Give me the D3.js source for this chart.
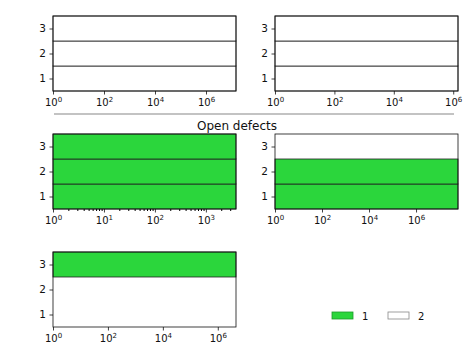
<!DOCTYPE html>
<html>
<head>
<meta charset="utf-8">
<script src="https://cdn.jsdelivr.net/npm/d3@7"></script>
<style>
  body { margin: 0; background: #fff; }
  text { font-family: "DejaVu Sans", sans-serif; fill: #111; }
</style>
</head>
<body>
<svg width="474" height="355"></svg>
<script>
// rows on the y axis
var rows = [1, 2, 3];
// series name for each row, per panel (null = no bar)
var panelSeries = [
  ["2", "2", "2"],
  ["2", "2", "2"],
  ["1", "1", "1"],
  ["1", "1", null],
  [null, null, "1"]
];
// bar length for each row, per panel
var panelValues = [
  [1.5e7, 1.5e7, 1.5e7],
  [1.45e6, 1.45e6, 1.45e6],
  [3.9e3, 3.9e3, 3.9e3],
  [6.1e7, 6.1e7, 6.1e7],
  [4.6e6, 4.6e6, 4.6e6]
];
var seriesNames = ["1", "2"];
var seriesColors = ["#2bd63c", "#ffffff"];
var title = "Open defects";

var svg = d3.select("svg");
var color = d3.scaleOrdinal().domain(seriesNames).range(seriesColors);

var pw = 183, ph = 75;
var slots = [[53, 16], [275, 16], [53, 134], [275, 134], [53, 252]];

slots.forEach(function (s, p) {
  var g = svg.append("g").attr("transform", "translate(" + s[0] + "," + s[1] + ")");
  var vals = panelValues[p];
  var xScale = d3.scaleLog().domain([1, d3.max(vals)]).range([0, pw]);
  var yScale = d3.scaleLinear().domain([0.5, 3.5]).range([ph, 0]);

  var decades = Math.log10(d3.max(vals));
  var step = decades > 4 ? 2 : 1;
  var majors = d3.range(0, Math.floor(decades) + 1, step).map(function (e) { return Math.pow(10, e); });

  var barData = rows.map(function (r, i) {
    return { row: r, value: vals[i], series: panelSeries[p][i] };
  }).filter(function (d) { return d.series !== null; });

  g.selectAll("rect.bar")
    .data(barData).enter()
    .append("rect")
    .attr("class", "bar")
    .attr("x", xScale(1))
    .attr("width", function (d) { return xScale(d.value) - xScale(1); })
    .attr("y", function (d) { return yScale(d.row + 0.5); })
    .attr("height", function (d) { return yScale(d.row - 0.5) - yScale(d.row + 0.5); })
    .style("fill", function (d) { return color(d.series); })
    .style("stroke", "#222")
    .style("stroke-width", "0.8px");

  // minor ticks when decades are shown one by one
  if (step === 1) {
    var minors = [];
    for (var e = 0; e <= Math.ceil(decades); e++) {
      for (var m = 2; m < 10; m++) {
        var v = m * Math.pow(10, e);
        if (v <= d3.max(vals)) minors.push(v);
      }
    }
    g.append("g")
      .attr("transform", "translate(0," + ph + ")")
      .call(d3.axisBottom(xScale).tickValues(minors).tickSize(2).tickFormat(""))
      .call(function (a) { a.select(".domain").remove(); });
  }

  var xAxis = g.append("g")
    .attr("transform", "translate(0," + ph + ")")
    .call(d3.axisBottom(xScale).tickValues(majors).tickSize(3.5).tickPadding(3.5).tickFormat(""));
  xAxis.select(".domain").remove();
  xAxis.selectAll(".tick line").style("stroke", "#111").attr("stroke-width", 0.8);

  var lbl = xAxis.selectAll(".tick").append("text")
    .attr("y", 15)
    .attr("text-anchor", "middle")
    .style("font-size", "10px");
  lbl.append("tspan").text("10");
  lbl.append("tspan")
    .attr("dy", -4.5)
    .style("font-size", "7px")
    .text(function (d) { return Math.round(Math.log10(d)); });

  var yAxis = g.append("g")
    .call(d3.axisLeft(yScale).tickValues(rows).tickSize(3.5).tickPadding(3.5).tickFormat(d3.format("d")));
  yAxis.select(".domain").remove();
  yAxis.selectAll(".tick line").style("stroke", "#111").attr("stroke-width", 0.8);
  yAxis.selectAll(".tick text").style("font-size", "10.5px").style("font-family", "DejaVu Sans");

  g.append("rect")
    .attr("width", pw).attr("height", ph)
    .style("fill", "none")
    .style("stroke", "#111")
    .style("stroke-width", "0.8px");
});

// separator and title
svg.append("line")
  .attr("x1", 54).attr("x2", 454)
  .attr("y1", 114).attr("y2", 114)
  .style("stroke", "#888")
  .style("stroke-width", "1.2px");

svg.append("text")
  .attr("x", 237).attr("y", 130)
  .attr("text-anchor", "middle")
  .style("font-size", "12px")
  .text(title);

// legend
var legend = svg.append("g").attr("transform", "translate(332,312)");
var item = legend.selectAll("g")
  .data(seriesNames).enter()
  .append("g")
  .attr("transform", function (d, i) { return "translate(" + i * 56 + ",0)"; });
item.append("rect")
  .attr("width", 21).attr("height", 7)
  .style("fill", function (d) { return color(d); })
  .style("stroke", function (d, i) { return i === 0 ? "#1e9a2b" : "#888"; })
  .style("stroke-width", "0.8px");
item.append("text")
  .attr("x", 30).attr("y", 7.5)
  .style("font-size", "10px")
  .text(function (d) { return d; });
</script>
</body>
</html>
